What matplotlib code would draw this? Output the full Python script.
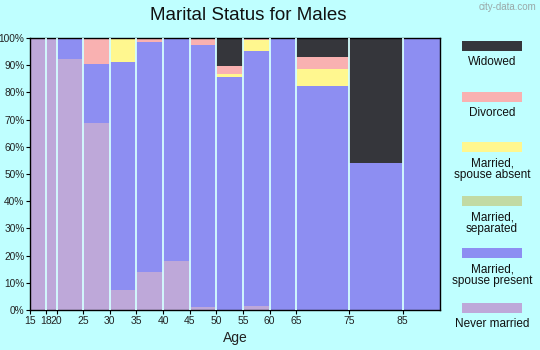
import matplotlib
matplotlib.use("Agg")
import matplotlib.pyplot as plt
import numpy as np

plt.rcParams["font.family"] = ["Liberation Sans", "DejaVu Sans"]

# Age group boundaries (years) and tick labels
age_edges = [15, 18, 20, 25, 30, 35, 40, 45, 50, 55, 60, 65, 75, 85, 92]
tick_ages = [15, 18, 20, 25, 30, 35, 40, 45, 50, 55, 60, 65, 75, 85]

# Share of males in each status, percent, per age group
never_married   = [100, 100, 92.4, 68.6, 7.3, 13.9, 18.0, 1.1, 0.0, 1.5, 0.0, 0.0, 0.0, 0.0]
spouse_present  = [0, 0, 7.6, 22.0, 84.0, 84.7, 82.0, 96.4, 85.8, 93.8, 100, 82.5, 53.9, 100]
separated       = [0, 0, 0, 0, 0, 0, 0, 0, 0, 0, 0, 0, 0, 0]
spouse_absent   = [0, 0, 0, 0, 8.7, 0, 0, 0, 1.1, 4.1, 0, 6.2, 0, 0]
divorced        = [0, 0, 0, 9.4, 0, 1.4, 0, 2.5, 2.9, 0.6, 0, 4.4, 0, 0]
widowed         = [0, 0, 0, 0, 0, 0, 0, 0, 10.2, 0, 0, 6.9, 46.1, 0]

series = [
    ("Never married", never_married, "#bea8d9"),
    ("Married,\nspouse present", spouse_present, "#8d8ef2"),
    ("Married,\nseparated", separated, "#c2daa4"),
    ("Married,\nspouse absent", spouse_absent, "#fff78f"),
    ("Divorced", divorced, "#f9b1b1"),
    ("Widowed", widowed, "#35363b"),
]

bg = "#bfffff"
fig = plt.figure(figsize=(5.4, 3.5), dpi=100, facecolor=bg)
ax = fig.add_axes([30 / 540, 1 - 310 / 350, 410 / 540, 272 / 350])
ax.set_facecolor(bg)

lefts = np.array(age_edges[:-1], dtype=float)
widths = np.diff(age_edges).astype(float)
bottom = np.zeros(len(lefts))
for name, vals, color in series:
    v = np.array(vals, dtype=float)
    ax.bar(lefts, v, width=widths, bottom=bottom, align="edge",
           color=color, edgecolor="none", linewidth=0)
    bottom += v

# light separators between age groups
for e in age_edges[1:-1]:
    ax.axvline(e, color="#d4ffff", lw=1.3, zorder=3)

ax.set_xlim(age_edges[0], age_edges[-1])
ax.set_ylim(0, 100)
ax.set_xticks(tick_ages)
ax.set_xticklabels([str(t) for t in tick_ages], fontsize=7.5, color="#222222")
ax.set_yticks(range(0, 101, 10))
ax.set_yticklabels([f"{t}%" for t in range(0, 101, 10)], fontsize=7.3, color="#222222")
ax.tick_params(axis="both", length=3, width=0.8, pad=1)
for s in ax.spines.values():
    s.set_color("black")
    s.set_linewidth(1)

ax.set_xlabel("Age", fontsize=10, color="#222222", labelpad=4)
fig.text(248 / 540, 1 - 16 / 350, "Marital Status for Males", ha="center", va="center",
         fontsize=13.5, color="#111111")
fig.text(536 / 540, 1 - 7 / 350, "city-data.com", ha="right", va="center",
         fontsize=7, color="#9aa8a8")

# legend: swatch with centred label below
legend_items = [
    ("Widowed", "#35363b", 46),
    ("Divorced", "#f9b1b1", 97),
    ("Married,\nspouse absent", "#fff78f", 147),
    ("Married,\nseparated", "#c2daa4", 201),
    ("Married,\nspouse present", "#8d8ef2", 253),
    ("Never married", "#bea8d9", 308),
]
for label, color, yc in legend_items:
    fig.patches.append(plt.Rectangle((462 / 540, 1 - (yc + 5) / 350), 60 / 540, 10 / 350,
                                     transform=fig.transFigure, facecolor=color,
                                     edgecolor="none"))
    fig.text(492 / 540, 1 - (yc + 10) / 350, label, ha="center", va="top",
             fontsize=8.5, color="#111111", linespacing=1.0)

fig.savefig("out.png", dpi=100, facecolor=bg)
